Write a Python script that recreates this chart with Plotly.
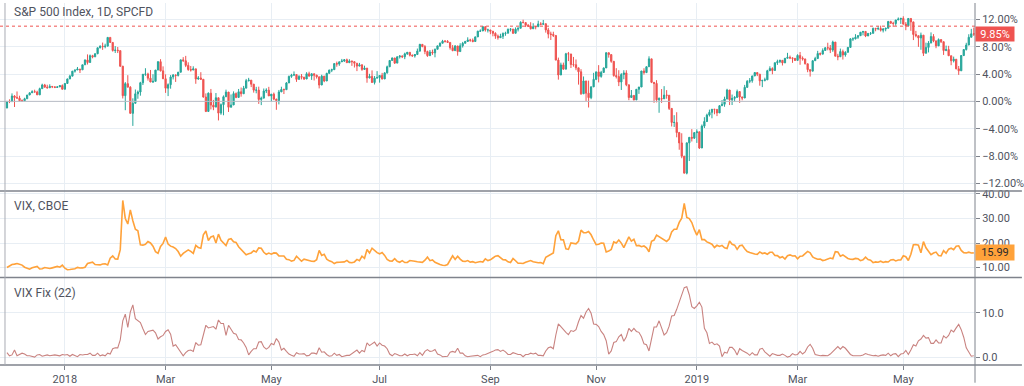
import pandas as pd
import plotly.graph_objects as go
from plotly.subplots import make_subplots

# ---------------- data (daily bars, 2017-11-28 .. 2019-06-11) ----------------
HOLIDAYS = ["2017-12-25", "2018-01-01", "2018-01-15", "2018-02-19", "2018-03-30",
            "2018-05-28", "2018-07-04", "2018-09-03", "2018-11-22", "2018-12-05",
            "2018-12-25", "2019-01-01", "2019-01-21", "2019-02-18", "2019-04-19",
            "2019-05-27"]
START_DATE = "2017-11-28"
END_DATE = "2019-06-11"
FIRST_OPEN = 2601.42  # session opens at the prior close

SPX_CLOSE = [
    2627.04, 2626.07, 2647.58, 2642.22, 2639.44, 2629.57, 2629.27, 2636.98, 2651.50, 2659.99, 2664.11, 2662.85, 2652.01, 2675.81, 2690.16, 2681.47, 2679.25, 2684.57, 2683.34, 2680.50, 2682.62, 2687.54, 2673.61,
    2695.81, 2713.06, 2723.99, 2743.15, 2747.71, 2751.29, 2748.23, 2767.56, 2786.24, 2776.42, 2802.56, 2798.03, 2810.30, 2832.97, 2839.13, 2837.54, 2839.25, 2872.87, 2853.53, 2822.43, 2823.81,
    2821.98, 2762.13, 2648.94, 2695.14, 2681.66, 2581.00, 2619.55, 2656.00, 2662.94, 2698.63, 2731.20, 2732.22, 2716.26, 2701.33, 2703.96, 2747.30, 2779.60, 2744.28, 2713.83,
    2677.67, 2691.25, 2720.94, 2728.12, 2726.80, 2738.97, 2786.57, 2783.02, 2765.31, 2749.48, 2747.33, 2752.01, 2712.92, 2716.94, 2711.93, 2643.69, 2588.26, 2658.55, 2612.62, 2605.00, 2640.87,
    2581.88, 2614.45, 2644.69, 2662.84, 2604.47, 2613.16, 2656.87, 2642.19, 2663.99, 2656.30, 2677.84, 2706.39, 2708.64, 2693.13, 2670.14, 2670.29, 2634.56, 2639.40, 2666.94, 2669.91, 2648.05,
    2654.80, 2635.67, 2629.73, 2663.42, 2672.63, 2671.92, 2697.79, 2723.07, 2727.72, 2730.13, 2711.45, 2722.46, 2720.13, 2712.97, 2733.01, 2724.44, 2733.29, 2727.76, 2721.33, 2689.86, 2724.01, 2705.27,
    2734.62, 2746.87, 2748.80, 2772.35, 2770.37, 2779.03, 2782.00, 2786.85, 2775.63, 2782.49, 2779.66, 2773.75, 2762.59, 2767.32, 2749.76, 2754.88, 2717.07, 2723.06, 2699.63, 2716.31, 2718.37,
    2726.71, 2713.22, 2736.61, 2759.82, 2784.17, 2793.84, 2774.02, 2798.29, 2801.31, 2798.43, 2809.55, 2815.62, 2804.49, 2801.83, 2806.98, 2820.40, 2846.07, 2837.44, 2818.82, 2802.60, 2816.29,
    2813.36, 2827.22, 2840.35, 2850.40, 2858.45, 2857.70, 2853.58, 2833.28, 2821.93, 2839.96, 2818.37, 2840.69, 2850.13, 2857.05, 2862.96, 2861.82, 2856.98, 2874.69, 2896.74, 2897.52, 2914.04, 2901.13, 2901.52,
    2896.72, 2888.60, 2878.05, 2871.68, 2877.13, 2887.89, 2888.92, 2904.18, 2904.98, 2888.80, 2904.31, 2907.95, 2930.75, 2929.67, 2919.37, 2915.56, 2905.97, 2914.00, 2913.98,
    2924.59, 2923.43, 2925.51, 2901.61, 2885.57, 2884.43, 2880.34, 2785.68, 2728.37, 2767.13, 2750.79, 2809.92, 2809.21, 2768.78, 2767.78, 2755.88, 2740.69, 2656.10, 2705.57, 2658.69, 2641.25, 2682.63, 2711.74,
    2740.37, 2723.06, 2738.31, 2755.45, 2813.89, 2806.83, 2781.01, 2726.22, 2722.18, 2701.58, 2730.20, 2736.27, 2690.73, 2641.89, 2649.93, 2632.56, 2673.45, 2682.17, 2743.79, 2737.80, 2760.17,
    2790.37, 2700.06, 2695.95, 2633.08, 2637.72, 2636.78, 2651.07, 2650.54, 2599.95, 2545.94, 2546.16, 2506.96, 2467.42, 2416.62, 2351.10, 2467.70, 2488.83, 2485.74, 2506.85,
    2510.03, 2447.89, 2531.94, 2549.69, 2574.41, 2584.96, 2596.64, 2596.26, 2582.61, 2610.30, 2616.10, 2635.96, 2670.71, 2632.90, 2638.70, 2642.33, 2664.76, 2643.85, 2640.00, 2681.05, 2704.10,
    2706.53, 2724.87, 2737.70, 2731.61, 2706.05, 2707.88, 2709.80, 2744.73, 2753.03, 2745.73, 2775.60, 2779.76, 2784.70, 2774.88, 2792.67, 2796.11, 2793.90, 2792.38, 2784.49,
    2803.69, 2792.81, 2789.65, 2771.45, 2748.93, 2743.07, 2783.30, 2791.52, 2810.92, 2808.48, 2822.48, 2832.94, 2832.57, 2824.23, 2854.88, 2800.71, 2798.36, 2818.46, 2805.37, 2815.44, 2834.40,
    2867.19, 2867.24, 2873.40, 2879.39, 2892.74, 2895.77, 2878.20, 2888.21, 2888.32, 2907.41, 2905.58, 2907.06, 2900.45, 2905.03, 2907.97, 2933.68, 2927.25, 2926.17, 2939.88, 2943.03, 2945.83,
    2923.73, 2917.52, 2945.64, 2932.47, 2884.05, 2879.42, 2870.72, 2881.40, 2811.87, 2834.41, 2850.96, 2876.32, 2859.53, 2840.23, 2864.36, 2856.27, 2822.24, 2826.06, 2802.39, 2783.02, 2788.86, 2752.06,
    2744.45, 2803.27, 2826.15, 2843.49, 2873.34, 2886.73, 2885.72,
]

SPX_HIGH = [
    2627.69, 2634.89, 2657.74, 2650.62, 2665.19, 2648.72, 2634.41, 2640.99, 2651.65, 2660.33, 2669.72, 2671.88, 2668.09, 2679.63, 2694.97, 2694.19, 2691.01, 2692.64, 2685.35, 2682.74, 2685.64, 2687.66, 2692.12,
    2695.89, 2714.37, 2729.29, 2743.45, 2748.51, 2759.14, 2750.80, 2767.56, 2787.85, 2807.54, 2807.04, 2805.83, 2810.33, 2833.03, 2842.24, 2852.97, 2848.56, 2872.87, 2870.62, 2837.75, 2839.26,
    2835.96, 2808.92, 2763.39, 2701.04, 2727.67, 2685.27, 2638.67, 2672.61, 2668.84, 2702.10, 2731.51, 2754.42, 2737.08, 2747.75, 2731.26, 2747.76, 2780.64, 2789.15, 2761.52,
    2730.89, 2696.25, 2728.09, 2732.08, 2730.60, 2740.45, 2786.57, 2796.98, 2801.90, 2777.11, 2763.03, 2761.85, 2741.38, 2724.22, 2739.14, 2695.68, 2657.67, 2661.36, 2674.78, 2632.65, 2659.07,
    2638.30, 2619.14, 2649.86, 2672.08, 2656.88, 2653.55, 2665.45, 2661.43, 2674.72, 2680.26, 2686.49, 2713.34, 2717.49, 2702.84, 2693.94, 2682.86, 2683.55, 2645.30, 2676.48, 2677.35, 2682.92,
    2655.27, 2660.87, 2637.14, 2670.93, 2683.35, 2676.34, 2701.27, 2726.11, 2732.86, 2742.10, 2718.59, 2727.76, 2731.96, 2719.50, 2739.19, 2741.09, 2733.33, 2731.97, 2729.34, 2710.67, 2729.36, 2722.50,
    2736.93, 2749.16, 2752.61, 2772.39, 2779.90, 2779.39, 2790.21, 2789.80, 2791.47, 2789.06, 2780.17, 2774.99, 2763.72, 2774.86, 2769.28, 2764.17, 2747.06, 2732.91, 2746.09, 2724.34, 2743.26,
    2727.26, 2736.58, 2737.83, 2764.41, 2784.65, 2795.58, 2785.91, 2799.22, 2804.53, 2803.71, 2814.19, 2816.76, 2812.05, 2807.04, 2808.61, 2829.99, 2848.03, 2842.43, 2843.17, 2821.74, 2824.46,
    2825.83, 2829.91, 2840.38, 2853.29, 2863.43, 2862.44, 2862.48, 2842.20, 2843.40, 2843.11, 2827.95, 2850.49, 2855.63, 2859.76, 2873.23, 2867.54, 2868.78, 2876.16, 2898.25, 2903.77, 2916.50, 2912.46, 2906.32,
    2900.18, 2894.21, 2892.52, 2883.81, 2886.93, 2892.11, 2894.65, 2906.76, 2908.30, 2904.65, 2911.17, 2911.48, 2934.80, 2940.91, 2923.79, 2923.95, 2931.15, 2927.22, 2916.54,
    2937.06, 2931.42, 2939.86, 2920.53, 2909.64, 2894.83, 2894.70, 2874.02, 2795.14, 2775.77, 2775.99, 2813.46, 2816.94, 2806.04, 2797.77, 2788.00, 2753.59, 2750.82, 2722.70, 2692.38, 2706.85, 2685.43, 2736.69,
    2741.67, 2766.28, 2744.27, 2756.82, 2815.15, 2814.75, 2802.03, 2775.99, 2754.60, 2746.80, 2735.38, 2746.75, 2746.66, 2669.44, 2670.73, 2647.55, 2674.35, 2682.53, 2744.00, 2754.34, 2760.88,
    2800.18, 2785.93, 2697.97, 2708.54, 2642.59, 2674.35, 2685.44, 2670.19, 2627.91, 2601.13, 2573.99, 2585.29, 2509.63, 2504.41, 2410.34, 2467.76, 2489.10, 2520.27, 2509.24,
    2519.49, 2493.14, 2538.07, 2566.16, 2579.82, 2595.32, 2597.82, 2596.27, 2589.32, 2613.08, 2632.11, 2645.06, 2675.47, 2653.19, 2653.19, 2647.20, 2672.38, 2645.19, 2645.33, 2690.44, 2708.95,
    2716.66, 2724.99, 2738.98, 2738.08, 2719.79, 2708.07, 2718.05, 2748.19, 2761.85, 2757.90, 2775.66, 2787.22, 2787.33, 2785.29, 2792.72, 2813.49, 2803.12, 2795.82, 2791.30,
    2808.02, 2816.88, 2799.78, 2791.52, 2767.57, 2744.13, 2784.00, 2798.32, 2821.24, 2815.00, 2830.73, 2835.41, 2852.42, 2843.54, 2860.31, 2849.00, 2809.79, 2829.87, 2825.96, 2819.71, 2836.03,
    2869.40, 2872.90, 2885.25, 2881.28, 2893.24, 2895.95, 2885.03, 2889.71, 2893.42, 2910.54, 2909.60, 2916.06, 2918.00, 2908.40, 2909.51, 2936.31, 2936.83, 2933.10, 2939.88, 2949.52, 2947.85,
    2954.13, 2931.68, 2947.36, 2937.32, 2913.03, 2897.96, 2875.97, 2891.31, 2840.19, 2852.54, 2858.68, 2892.15, 2885.48, 2853.86, 2868.98, 2865.47, 2836.70, 2841.36, 2840.51, 2792.03, 2799.00, 2768.98,
    2763.07, 2804.49, 2827.28, 2852.10, 2884.99, 2905.74, 2910.61,
]

SPX_LOW = [
    2601.19, 2620.32, 2633.93, 2605.52, 2639.03, 2627.73, 2624.75, 2628.19, 2644.10, 2651.47, 2659.78, 2662.85, 2652.01, 2659.14, 2685.92, 2680.74, 2676.11, 2682.40, 2678.13, 2677.96, 2678.91, 2682.69, 2673.61,
    2682.36, 2697.77, 2719.07, 2727.92, 2737.60, 2747.86, 2736.06, 2752.78, 2769.64, 2768.64, 2778.38, 2792.56, 2798.08, 2808.12, 2830.59, 2824.81, 2830.94, 2846.18, 2851.48, 2818.27, 2813.04,
    2812.70, 2759.97, 2638.17, 2593.07, 2681.33, 2580.56, 2532.69, 2622.45, 2637.08, 2648.87, 2689.82, 2725.11, 2706.76, 2701.29, 2697.77, 2713.74, 2753.78, 2742.10, 2713.54,
    2659.65, 2647.32, 2675.75, 2711.26, 2701.74, 2722.65, 2751.54, 2779.26, 2758.68, 2744.38, 2741.47, 2749.97, 2694.59, 2710.05, 2709.79, 2641.59, 2585.89, 2601.81, 2596.12, 2593.06, 2609.72,
    2553.80, 2575.49, 2573.61, 2649.58, 2586.27, 2610.79, 2635.78, 2639.25, 2653.83, 2645.05, 2665.16, 2692.05, 2703.63, 2681.90, 2660.61, 2657.99, 2617.32, 2612.67, 2647.16, 2659.01, 2648.04,
    2625.41, 2631.70, 2594.62, 2615.32, 2664.70, 2655.20, 2674.14, 2704.54, 2717.45, 2725.47, 2701.91, 2712.17, 2711.36, 2709.18, 2725.70, 2721.38, 2709.54, 2707.38, 2714.55, 2676.81, 2702.77, 2700.68,
    2718.70, 2740.54, 2739.51, 2748.46, 2760.16, 2763.59, 2780.17, 2778.78, 2774.65, 2776.52, 2763.41, 2757.12, 2743.29, 2761.76, 2744.39, 2752.68, 2698.67, 2715.60, 2699.38, 2691.99, 2718.03,
    2698.95, 2711.16, 2716.02, 2733.52, 2768.51, 2786.24, 2770.77, 2781.53, 2791.69, 2793.39, 2789.24, 2805.89, 2799.77, 2798.41, 2795.14, 2811.12, 2817.73, 2835.26, 2808.34, 2798.11, 2808.06,
    2805.85, 2796.34, 2827.37, 2835.98, 2855.92, 2853.09, 2851.98, 2825.81, 2819.88, 2826.58, 2802.49, 2831.44, 2833.73, 2850.62, 2861.32, 2856.05, 2854.03, 2862.35, 2884.69, 2893.50, 2898.40, 2895.22, 2891.73,
    2885.13, 2876.92, 2867.29, 2864.12, 2875.94, 2866.78, 2879.20, 2896.39, 2895.77, 2886.16, 2890.43, 2895.72, 2912.51, 2927.11, 2912.63, 2913.70, 2903.28, 2909.27, 2903.77,
    2917.91, 2919.37, 2921.36, 2891.14, 2869.29, 2862.99, 2874.27, 2784.86, 2710.51, 2729.44, 2749.03, 2766.91, 2781.81, 2755.18, 2760.27, 2746.78, 2691.43, 2651.89, 2667.84, 2628.16, 2603.54, 2635.34, 2705.60,
    2708.85, 2699.96, 2717.94, 2737.08, 2774.87, 2794.99, 2775.42, 2722.00, 2714.98, 2685.75, 2670.75, 2712.16, 2685.23, 2631.52, 2649.82, 2631.09, 2649.97, 2655.89, 2684.38, 2729.74, 2735.76,
    2773.38, 2697.18, 2621.53, 2623.14, 2583.23, 2621.30, 2650.26, 2637.27, 2593.84, 2530.54, 2528.71, 2488.96, 2441.18, 2408.55, 2351.10, 2346.58, 2397.94, 2472.89, 2482.82,
    2467.47, 2443.96, 2474.33, 2524.56, 2547.56, 2568.89, 2562.02, 2577.40, 2570.41, 2585.10, 2612.86, 2606.36, 2647.58, 2612.86, 2613.00, 2627.01, 2657.33, 2621.13, 2631.09, 2648.34, 2678.65,
    2696.88, 2698.75, 2724.03, 2724.15, 2687.26, 2681.83, 2703.79, 2724.98, 2748.63, 2731.23, 2760.16, 2767.29, 2773.88, 2764.84, 2781.83, 2794.99, 2789.47, 2775.13, 2782.32,
    2787.38, 2767.66, 2783.61, 2768.98, 2739.09, 2722.27, 2747.68, 2786.73, 2799.78, 2803.46, 2810.79, 2821.99, 2823.27, 2812.63, 2817.38, 2800.47, 2785.02, 2803.99, 2787.72, 2798.77, 2819.23,
    2848.63, 2858.75, 2865.17, 2867.14, 2882.99, 2880.78, 2873.92, 2879.13, 2881.99, 2898.37, 2896.48, 2900.71, 2895.45, 2891.90, 2896.35, 2908.53, 2926.05, 2912.84, 2917.56, 2939.35, 2924.85,
    2923.36, 2900.50, 2929.10, 2898.21, 2862.60, 2873.28, 2836.40, 2825.39, 2801.43, 2820.12, 2815.08, 2855.82, 2854.23, 2831.29, 2851.75, 2851.11, 2805.49, 2820.19, 2801.58, 2766.06, 2776.74, 2750.52,
    2728.81, 2762.73, 2800.92, 2822.45, 2852.87, 2880.97, 2878.53,
]

VIX_CLOSE = [
    10.03, 10.70, 11.28, 11.43, 11.68, 11.33, 11.02, 10.16, 9.58, 9.34, 9.92, 10.18, 10.49, 9.42, 9.53, 10.03, 9.72, 9.62, 9.90, 10.25, 10.47, 10.18, 11.04,
    9.77, 9.15, 9.22, 9.22, 9.52, 10.08, 9.82, 9.88, 10.16, 11.66, 11.91, 12.22, 11.27, 11.03, 11.10, 11.47, 11.58, 11.08, 13.84, 14.79, 13.54,
    13.47, 17.31, 37.32, 29.98, 27.73, 33.46, 29.06, 25.61, 24.97, 19.26, 19.13, 19.46, 20.60, 20.02, 18.72, 16.49, 15.80, 18.59, 19.85,
    22.47, 19.59, 18.73, 18.36, 17.76, 16.54, 14.64, 15.78, 16.35, 17.23, 16.59, 15.80, 19.02, 18.20, 17.86, 23.34, 24.87, 21.03, 22.50, 22.87, 19.97,
    23.62, 21.10, 20.06, 18.94, 21.49, 21.77, 20.47, 20.24, 18.49, 17.41, 16.56, 15.25, 15.60, 15.96, 16.88, 16.34, 18.02, 17.84, 16.24, 15.41, 15.93,
    15.49, 15.97, 15.90, 14.77, 14.75, 14.71, 13.42, 13.23, 12.65, 12.93, 14.63, 13.42, 12.59, 13.42, 13.08, 12.79, 12.58, 12.53, 13.22, 17.02, 14.94, 15.43,
    13.46, 12.74, 12.40, 11.64, 12.13, 12.18, 12.35, 12.34, 12.94, 12.12, 11.98, 12.31, 13.35, 12.79, 14.64, 13.77, 17.33, 15.92, 17.91, 16.85, 16.09,
    15.60, 16.14, 14.97, 13.37, 12.69, 12.64, 13.63, 12.58, 12.18, 12.83, 12.06, 12.10, 12.87, 12.86, 12.62, 12.41, 12.29, 12.14, 13.03, 14.26, 12.83,
    13.15, 12.19, 11.64, 11.27, 10.93, 10.85, 11.27, 13.16, 14.78, 13.31, 14.64, 13.45, 12.64, 12.49, 12.86, 12.25, 12.41, 11.99, 12.16, 12.50, 12.25, 13.53, 12.86,
    13.16, 13.91, 14.65, 14.88, 14.16, 13.22, 13.14, 12.37, 12.07, 13.68, 12.79, 11.75, 11.80, 11.68, 12.20, 12.42, 12.89, 12.41, 12.12,
    12.00, 12.05, 11.61, 14.22, 14.82, 15.69, 15.95, 22.96, 24.98, 21.31, 21.30, 17.62, 17.40, 20.06, 19.89, 19.64, 20.71, 25.23, 24.22, 24.16, 24.70, 23.35, 21.23,
    19.34, 19.51, 19.96, 19.91, 16.36, 16.72, 17.36, 20.45, 20.02, 21.25, 19.98, 18.14, 20.10, 22.48, 20.80, 21.52, 18.90, 19.02, 18.49, 18.79, 18.07,
    16.44, 20.74, 21.19, 23.23, 22.64, 21.76, 21.46, 20.65, 21.63, 24.52, 25.58, 25.58, 28.38, 30.11, 36.07, 30.41, 29.96, 28.34, 25.42,
    23.22, 25.45, 21.38, 21.40, 20.47, 19.98, 19.50, 18.19, 19.07, 18.60, 19.04, 18.06, 17.80, 20.80, 19.52, 19.13, 17.42, 18.87, 19.13, 17.66, 16.57,
    16.14, 15.73, 15.57, 15.38, 16.37, 15.72, 15.97, 15.43, 16.22, 16.22, 14.91, 14.88, 14.02, 14.46, 13.51, 14.85, 15.17, 14.70, 14.78,
    13.57, 14.63, 14.74, 15.74, 16.59, 16.05, 14.33, 13.77, 13.41, 13.50, 12.88, 13.10, 13.56, 13.91, 13.63, 16.48, 16.33, 14.68, 15.15, 14.43, 13.71,
    13.40, 13.36, 13.74, 13.58, 12.82, 13.18, 14.28, 13.30, 13.02, 12.01, 12.32, 12.18, 12.60, 12.09, 12.42, 12.28, 13.14, 13.25, 12.73, 13.11, 13.12,
    14.80, 14.42, 12.87, 15.44, 19.32, 19.40, 19.10, 16.04, 20.55, 18.06, 16.44, 15.29, 15.96, 16.31, 14.95, 14.75, 16.92, 15.85, 17.50, 17.90, 17.30, 18.71,
    18.86, 16.97, 16.09, 15.93, 16.30, 15.94, 15.99,
]

VIX_FIX_22 = [
    1.0, 0.3, 0.5, 1.6, 0.3, 0.7, 0.9, 0.7, 0.3, 0.3, 0.2, 0.0, 0.5, 0.6, 0.2, 0.4, 0.5, 0.3, 0.4, 0.5, 0.4, 0.3, 0.6,
    0.5, 0.6, 0.2, 0.6, 0.4, 0.1, 0.6, 0.5, 0.6, 0.6, 0.9, 0.4, 0.4, 0.9, 0.3, 0.5, 0.3, 0.9, 0.7, 1.9, 2.1,
    2.1, 3.9, 8.2, 9.7, 6.7, 10.2, 11.8, 8.7, 8.2, 7.8, 6.4, 5.1, 5.8, 6.0, 6.1, 5.5, 4.1, 4.6, 4.9,
    5.8, 6.2, 5.2, 2.5, 2.8, 2.0, 1.3, 0.3, 1.0, 1.5, 1.6, 1.3, 3.3, 2.7, 2.8, 5.2, 7.2, 6.6, 6.8, 6.9, 6.3,
    8.4, 7.6, 7.6, 4.9, 7.2, 6.3, 5.4, 5.2, 4.0, 3.9, 3.2, 2.2, 0.5, 1.3, 1.9, 1.9, 3.4, 3.5, 2.3, 1.8, 2.2,
    3.1, 2.8, 4.2, 3.4, 1.6, 2.0, 1.3, 0.7, 0.4, 0.2, 1.0, 0.7, 0.7, 0.8, 0.3, 0.4, 0.9, 0.9, 0.7, 2.1, 1.1, 1.2,
    0.6, 0.2, 0.3, 0.9, 0.4, 0.6, 0.1, 0.3, 0.4, 0.4, 0.8, 1.1, 1.6, 0.9, 1.5, 1.2, 3.2, 2.6, 3.1, 3.4, 2.5,
    3.2, 2.7, 2.5, 1.9, 0.7, 0.3, 0.8, 0.6, 0.3, 0.3, 0.7, 0.3, 0.6, 0.6, 0.7, 0.3, 1.0, 0.4, 1.3, 1.7, 1.3,
    1.4, 1.7, 0.7, 0.5, 0.1, 0.2, 0.2, 1.1, 1.3, 1.1, 2.0, 0.9, 0.9, 0.3, 0.1, 0.2, 0.3, 0.4, 0.4, 0.1, 0.5, 0.6, 0.8,
    1.0, 1.3, 1.6, 1.7, 1.3, 1.6, 1.2, 0.6, 0.6, 1.0, 0.8, 0.6, 0.6, 0.1, 0.6, 0.6, 0.9, 0.7, 0.9,
    0.4, 0.4, 0.3, 1.4, 2.1, 2.3, 1.9, 5.0, 7.5, 6.9, 6.2, 5.6, 5.1, 6.0, 5.8, 6.2, 8.0, 9.4, 8.8, 10.2, 11.0, 9.9, 7.5,
    7.4, 6.9, 5.8, 5.1, 3.7, 0.7, 1.4, 3.3, 3.5, 4.6, 5.1, 3.6, 4.6, 6.5, 5.8, 6.5, 5.8, 5.6, 4.6, 3.0, 2.8,
    1.4, 4.1, 6.8, 6.8, 8.2, 6.6, 5.0, 5.5, 7.0, 9.3, 9.4, 10.8, 12.5, 13.7, 15.7, 15.9, 14.1, 11.4, 11.0,
    11.6, 12.4, 11.3, 6.5, 5.5, 3.1, 3.4, 2.8, 3.0, 2.5, 0.1, 1.1, 0.9, 2.2, 2.2, 1.6, 0.5, 1.9, 1.5, 1.2, 0.9,
    0.4, 1.0, 0.5, 0.5, 1.8, 2.0, 1.2, 0.7, 0.2, 0.8, 0.6, 0.4, 0.4, 0.7, 0.4, 0.0, 0.2, 0.8, 0.5,
    0.6, 1.3, 0.7, 1.2, 2.3, 2.9, 2.0, 0.6, 0.4, 0.3, 0.4, 0.4, 0.3, 0.7, 1.3, 1.9, 2.4, 1.8, 2.4, 2.0, 1.2,
    0.6, 0.3, 0.3, 0.4, 0.3, 0.5, 0.8, 0.6, 0.5, 0.3, 0.4, 0.2, 0.4, 0.5, 0.4, 0.9, 0.3, 0.7, 0.8, 0.1, 0.7,
    0.8, 1.5, 0.6, 1.6, 2.8, 2.5, 3.7, 4.1, 4.9, 4.3, 4.4, 3.1, 3.1, 3.9, 3.2, 3.2, 4.8, 4.3, 4.9, 6.1, 5.7, 6.6,
    7.4, 6.2, 4.5, 2.1, 1.0, 0.2, 0.3,
]

TICK_DATES = ["2018-01-02", "2018-03-01", "2018-05-01", "2018-07-02", "2018-09-04",
              "2018-11-01", "2019-01-02", "2019-03-01", "2019-05-01"]
TICK_LABELS = ["2018", "Mar", "May", "Jul", "Sep", "Nov", "2019", "Mar", "May"]
PCT_TICKS = [-12, -8, -4, 0, 4, 8, 12]
VIX_TICKS = [10, 20, 30, 40]
FIX_TICKS = [0, 10]
PRICE_LINE_PCT = 11.0

TITLE_MAIN = "S&P 500 Index, 1D, SPCFD"
TITLE_VIX = "VIX, CBOE"
TITLE_FIX = "VIX Fix (22)"

# ---------------- styling ----------------
UP = "#26a69a"
DOWN = "#ef5350"
VIX_COLOR = "#ffa23a"
FIX_COLOR = "#c98380"
GRID = "#e8eef4"
FRAME = "#7f838c"
TEXT = "#50535e"
FONT = "Roboto"

W, H = 1024, 386
ML, MR, MT, MB = 0, 47, 0, 18
PW, PH = W - ML - MR, H - MT - MB
P1_BOTTOM, P2_BOTTOM = 191, 279          # panel divider rows in pixels


def py(px):
    return (PH - px) / PH


# ---------------- build ----------------
n = len(SPX_CLOSE)
days = pd.bdate_range(START_DATE, END_DATE)
days = days[~days.isin(pd.to_datetime(HOLIDAYS))][:n]
x = list(range(n))
tickvals = [int(days.get_indexer([pd.Timestamp(d)])[0]) for d in TICK_DATES]

base = SPX_CLOSE[0]


def pct(v):
    return (v / base - 1.0) * 100.0


opens = [FIRST_OPEN] + SPX_CLOSE[:-1]
o = [pct(v) for v in opens]
c = [pct(v) for v in SPX_CLOSE]
h = [pct(max(a, b, cc)) for a, b, cc in zip(SPX_HIGH, opens, SPX_CLOSE)]
l = [pct(min(a, b, cc)) for a, b, cc in zip(SPX_LOW, opens, SPX_CLOSE)]
last_pct = c[-1]
last_vix = VIX_CLOSE[-1]

fig = make_subplots(rows=3, cols=1, shared_xaxes=True, vertical_spacing=0)
fig.add_trace(go.Candlestick(
    x=x, open=o, high=h, low=l, close=c,
    increasing=dict(line=dict(color=UP, width=1), fillcolor=UP),
    decreasing=dict(line=dict(color=DOWN, width=1), fillcolor=DOWN),
    hoverinfo="skip", showlegend=False), row=1, col=1)
fig.add_trace(go.Scatter(x=x, y=VIX_CLOSE[:n], mode="lines",
                         line=dict(color=VIX_COLOR, width=1.6),
                         hoverinfo="skip", showlegend=False), row=2, col=1)
fig.add_trace(go.Scatter(x=x, y=VIX_FIX_22[:n], mode="lines",
                         line=dict(color=FIX_COLOR, width=1.1),
                         hoverinfo="skip", showlegend=False), row=3, col=1)

x_lo = tickvals[0] - 65 / 2.523
x_hi = x_lo + PW / 2.523
xcommon = dict(range=[x_lo, x_hi], tickvals=tickvals, ticktext=TICK_LABELS,
               showgrid=True, gridcolor=GRID, gridwidth=1, zeroline=False,
               showline=False, fixedrange=True)
fig.update_xaxes(**xcommon)
fig.update_xaxes(showticklabels=False, ticks="", rangeslider_visible=False, row=1, col=1)
fig.update_xaxes(showticklabels=False, ticks="", row=2, col=1)
fig.update_xaxes(showticklabels=True, ticks="outside", ticklen=4, tickcolor=FRAME,
                 tickfont=dict(family=FONT, size=11, color=TEXT), row=3, col=1)


def fmt_pct(v):
    return f"{v:.2f}%".replace("-", "\u2212")


ycommon = dict(side="right", showgrid=True, gridcolor=GRID, zeroline=False,
               showline=False, ticks="outside", ticklen=4, tickcolor=FRAME,
               tickfont=dict(family=FONT, size=11, color=TEXT), fixedrange=True)
px_per_pct = 6.95
fig.update_layout(
    yaxis=dict(domain=[py(P1_BOTTOM), 1.0],
               range=[-(P1_BOTTOM - 100) / px_per_pct, 100 / px_per_pct],
               tickvals=PCT_TICKS, ticktext=[fmt_pct(v) for v in PCT_TICKS], **ycommon),
    yaxis2=dict(domain=[py(P2_BOTTOM), py(P1_BOTTOM)],
                range=[10 - (P2_BOTTOM - 269) / 2.5, 10 + (269 - P1_BOTTOM) / 2.5],
                tickvals=VIX_TICKS, ticktext=[f"{v:.2f}" for v in VIX_TICKS], **ycommon),
    yaxis3=dict(domain=[0.0, py(P2_BOTTOM)],
                range=[-(PH - 360) / 4.5, (360 - P2_BOTTOM) / 4.5],
                tickvals=FIX_TICKS, ticktext=[f"{v:.1f}" for v in FIX_TICKS], **ycommon),
)

xr = W / PW
shapes = [
    # zero baseline in the price pane
    dict(type="line", xref="paper", yref="y", x0=0, x1=1, y0=0, y1=0,
         line=dict(color="#b9bcc4", width=1)),
    # dotted price line
    dict(type="line", xref="paper", yref="y", x0=0, x1=1, y0=PRICE_LINE_PCT, y1=PRICE_LINE_PCT,
         line=dict(color=DOWN, width=1, dash="dot")),
    # pane dividers
    dict(type="line", xref="paper", yref="paper", x0=0, x1=xr, y0=py(P1_BOTTOM), y1=py(P1_BOTTOM),
         line=dict(color=FRAME, width=1.5)),
    dict(type="line", xref="paper", yref="paper", x0=0, x1=xr, y0=py(P2_BOTTOM), y1=py(P2_BOTTOM),
         line=dict(color=FRAME, width=1.5)),
    dict(type="line", xref="paper", yref="paper", x0=0, x1=xr, y0=0, y1=0,
         line=dict(color=FRAME, width=1.5)),
    # price-scale border
    dict(type="line", xref="paper", yref="paper", x0=1, x1=1, y0=-MB / PH, y1=1,
         line=dict(color=FRAME, width=1)),
    # left border
    dict(type="line", xref="paper", yref="paper", x0=5 / PW, x1=5 / PW, y0=0, y1=1,
         line=dict(color="#a9acb3", width=1)),
]

annotations = [
    dict(xref="paper", yref="paper", x=12 / PW, y=py(9), xanchor="left", yanchor="middle",
         text=TITLE_MAIN, showarrow=False, font=dict(family=FONT, size=12, color=TEXT)),
    dict(xref="paper", yref="paper", x=12 / PW, y=py(206), xanchor="left", yanchor="middle",
         text=TITLE_VIX, showarrow=False, font=dict(family=FONT, size=12, color=TEXT)),
    dict(xref="paper", yref="paper", x=12 / PW, y=py(295), xanchor="left", yanchor="middle",
         text=TITLE_FIX, showarrow=False, font=dict(family=FONT, size=12, color=TEXT)),
    dict(xref="paper", yref="y", x=1.0, y=last_pct, xanchor="left", yanchor="middle",
         text=fmt_pct(last_pct), showarrow=False, bgcolor=DOWN, borderpad=2,
         width=34, height=10, font=dict(family=FONT, size=11, color="white")),
    dict(xref="paper", yref="y2", x=1.0, y=last_vix, xanchor="left", yanchor="middle",
         text=f"{last_vix:.2f}", showarrow=False, bgcolor=VIX_COLOR, borderpad=2,
         width=34, height=11, font=dict(family=FONT, size=11, color="#2b2b2b")),
]

fig.update_layout(
    width=W, height=H,
    margin=dict(l=ML, r=MR, t=MT, b=MB, pad=0),
    paper_bgcolor="white", plot_bgcolor="white",
    font=dict(family=FONT, size=11, color=TEXT),
    shapes=shapes, annotations=annotations,
    showlegend=False, hovermode=False,
)

fig.write_html("out.html", config={"displayModeBar": False, "staticPlot": True},
               post_script="document.body.style.margin='0';document.body.style.overflow='hidden';")
